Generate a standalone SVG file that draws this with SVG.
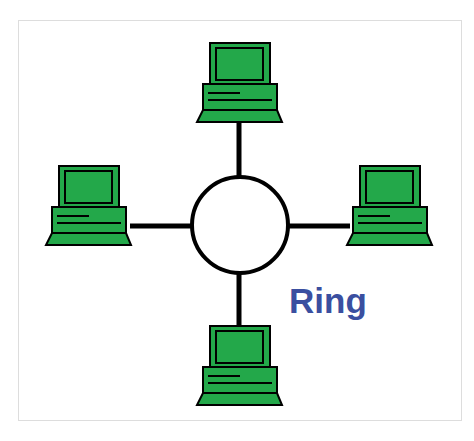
<svg xmlns="http://www.w3.org/2000/svg" width="474" height="441" viewBox="0 0 474 441">
<defs>
<style>.g{fill:#23a84a;stroke:#000;stroke-width:2}.l{stroke:#000;stroke-width:2}.c{stroke:#000;stroke-width:5;fill:none}</style>
<g id="pc">
<rect class="g" x="210" y="43" width="60" height="41"/>
<rect class="g" x="216" y="48" width="47" height="32"/>
<rect class="g" x="203" y="84" width="74" height="26"/>
<line class="l" x1="208" y1="93" x2="240" y2="93"/>
<line class="l" x1="208" y1="100" x2="272" y2="100"/>
<polygon class="g" points="203,110 277,110 282,122 197,122"/>
</g>
</defs>
<rect width="474" height="441" fill="#fff"/>
<rect x="18.5" y="20.5" width="443" height="400" fill="none" stroke="#ddd"/>
<g id="connectors">
<line class="c" x1="239" y1="122" x2="239" y2="178"/>
<line class="c" x1="239" y1="272" x2="239" y2="326"/>
<line class="c" x1="130" y1="226" x2="192" y2="226"/>
<line class="c" x1="288" y1="226" x2="350" y2="226"/>
</g>
<g id="ring"><circle cx="240" cy="225" r="48" fill="#fff" stroke="#000" stroke-width="4"/></g>
<g id="pc-top"><use href="#pc"/></g>
<g id="pc-left"><use href="#pc" transform="translate(-151,123)"/></g>
<g id="pc-right"><use href="#pc" transform="translate(150,123)"/></g>
<g id="pc-bottom"><use href="#pc" transform="translate(0,283)"/></g>
<text x="289" y="313" font-family="Liberation Sans, sans-serif" font-weight="bold" font-size="35" fill="#3a4fa0">Ring</text>
</svg>
